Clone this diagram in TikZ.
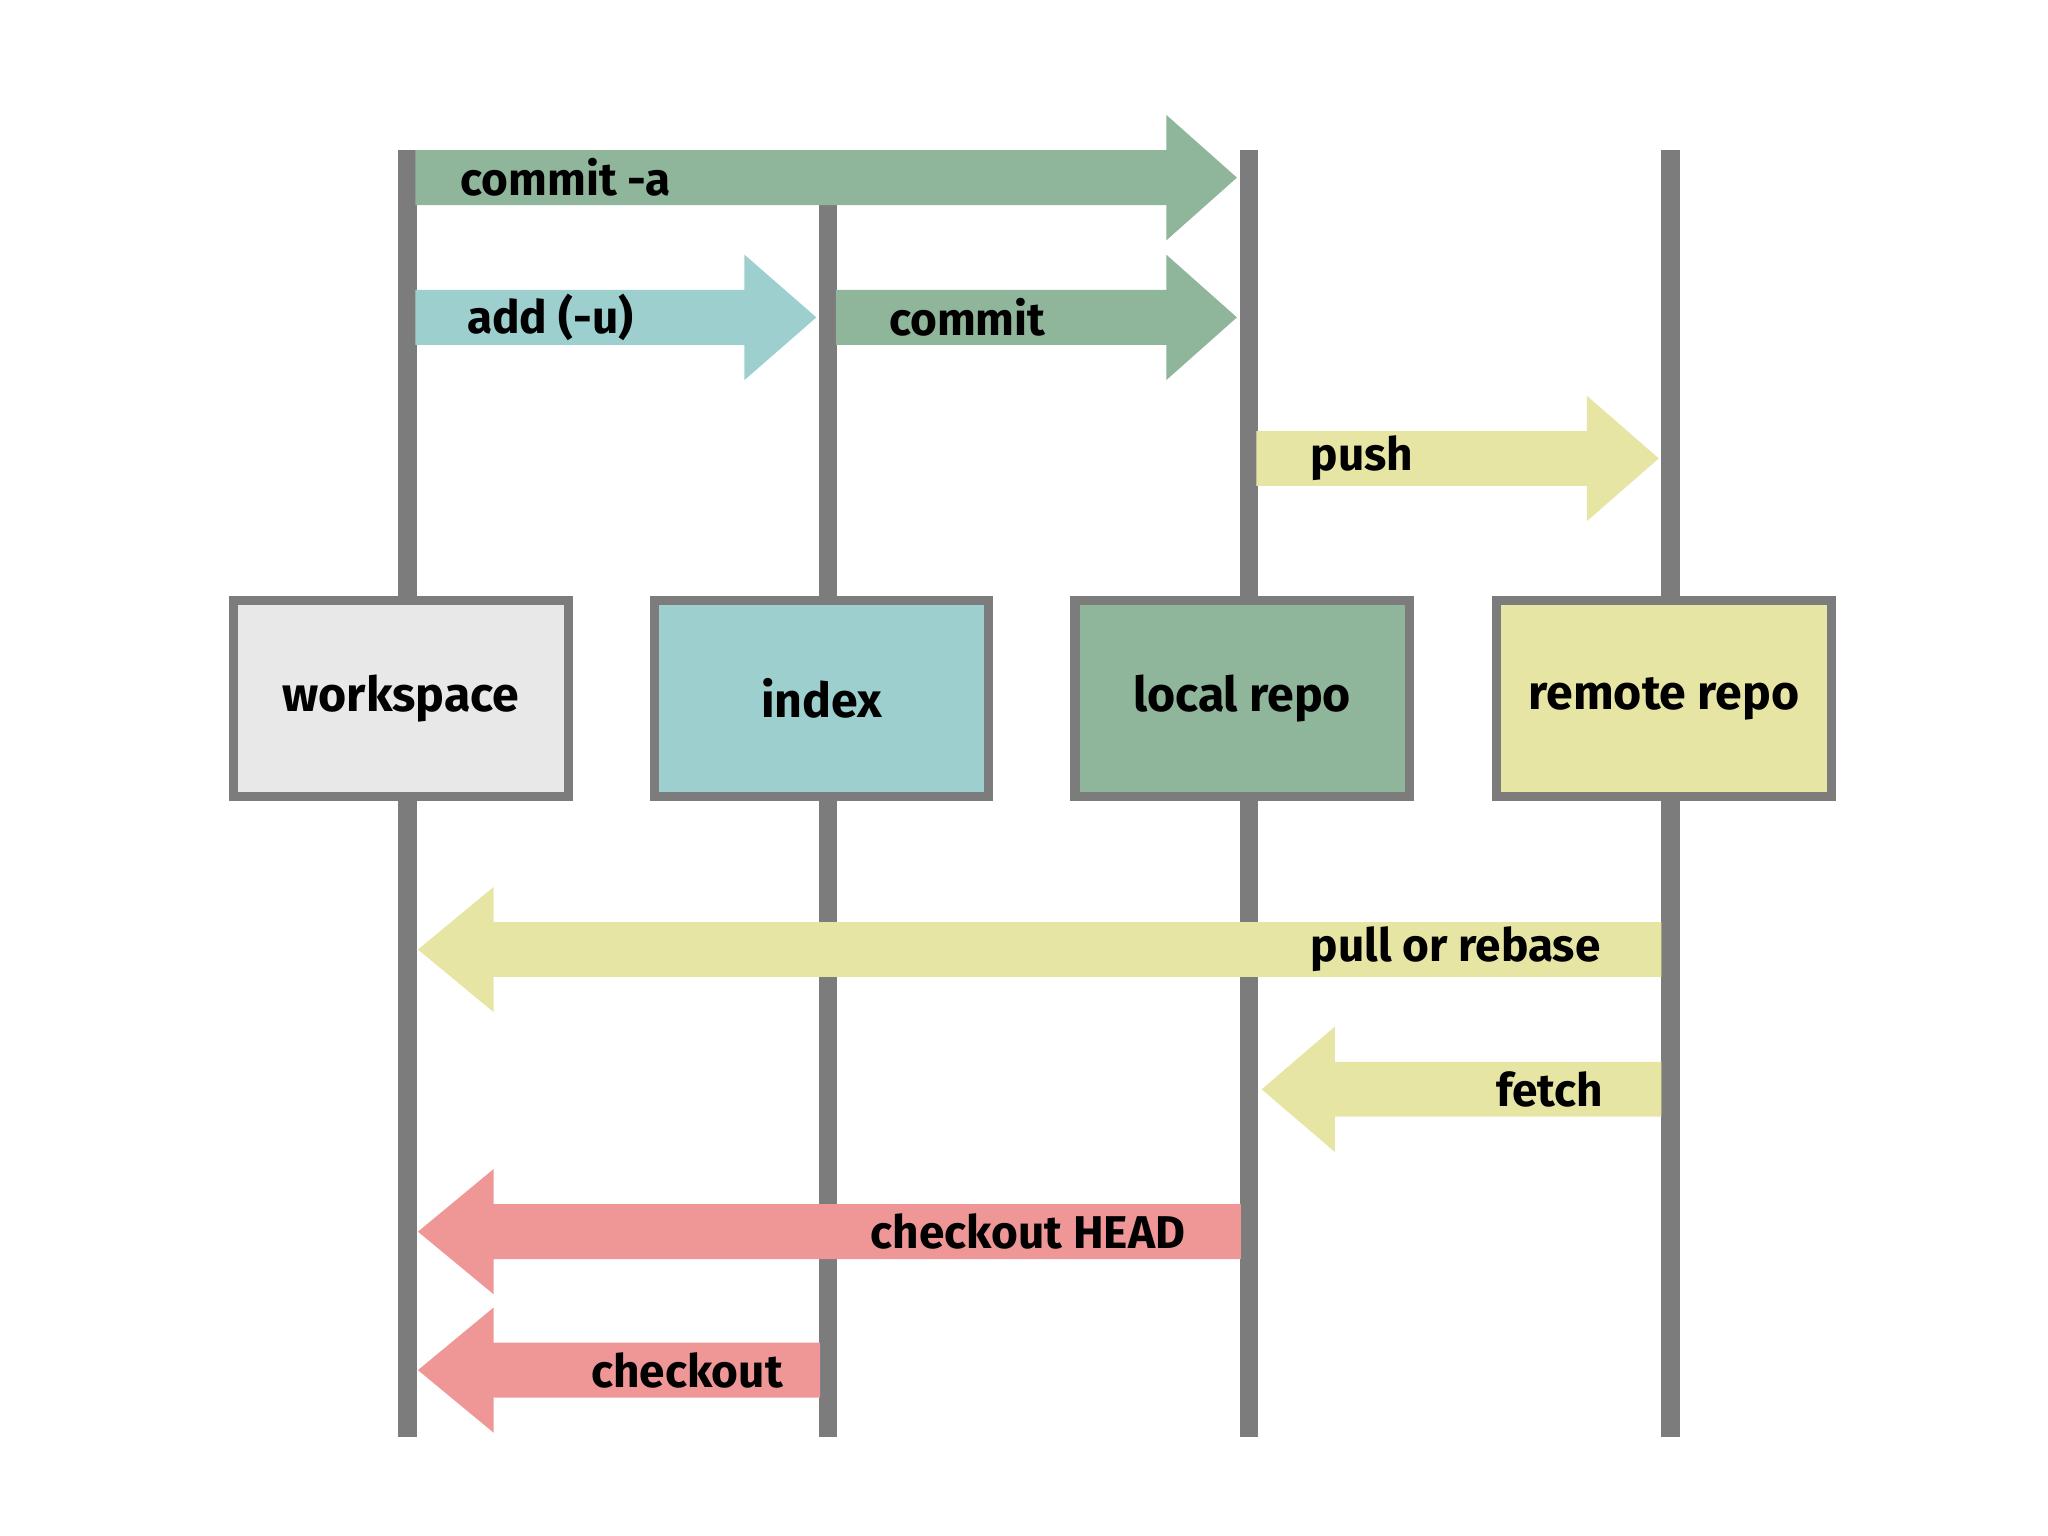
\documentclass[tikz,border=0pt]{standalone}
\usepackage{fontspec}
\setmainfont{Fira Sans}
\begin{document}
\begin{tikzpicture}[x=0.01cm,y=-0.01cm,
  vline/.style={line width=14*0.2845pt,draw=lg},
  box/.style={draw=lg,line width=7*0.2845pt,minimum width=256*0.01cm,minimum height=150*0.01cm,inner sep=0pt,font=\fontsize{10.5}{12}\selectfont\bfseries},
  lbl/.style={font=\fontsize{10}{12}\selectfont\bfseries,inner sep=0pt}]
\definecolor{lg}{HTML}{7C7C7C}
\definecolor{cgreen}{HTML}{8FB59A}
\definecolor{cteal}{HTML}{9DCFCF}
\definecolor{cyel}{HTML}{E6E5A4}
\definecolor{cpink}{HTML}{EF9696}
\definecolor{cws}{HTML}{E8E8E8}
\useasboundingbox (0,0) rectangle (1568,1176);
% lines
\foreach \x in {312,634,956,1279} \draw[vline] (\x,115) -- (\x,1100);
% boxes
\node[box,fill=cws] (ws) at (307,535) {workspace};
\node[box,fill=cteal] (ix) at (629,535) {index};
\node[box,fill=cgreen] (lr) at (951,535) {local repo};
\node[box,fill=cyel] (rr) at (1274,535) {remote repo};
% right arrows: x0 body-start, x1 head-base, x2 tip, yc center
\newcommand{\rarr}[5]{\fill[#5] (#1,#4-21) -- (#2,#4-21) -- (#2,#4-48) -- (#3,#4) -- (#2,#4+48) -- (#2,#4+21) -- (#1,#4+21) -- cycle;}
\rarr{318}{893}{947}{136}{cgreen}
\rarr{318}{570}{625}{243}{cteal}
\rarr{640}{893}{947}{243}{cgreen}
\rarr{962}{1215}{1270}{351}{cyel}
\rarr{1272}{378}{320}{727}{cyel}
\rarr{1272}{1022}{966}{834}{cyel}
\rarr{950}{378}{320}{943}{cpink}
\rarr{628}{378}{320}{1049}{cpink}
\node[lbl,anchor=west] at (352,136) {commit -a};
\node[lbl,anchor=west] at (357,243) {add (-u)};
\node[lbl,anchor=west] at (680,243) {commit};
\node[lbl,anchor=west] at (1003,351) {push};
\node[lbl,anchor=east] at (1226,727) {pull or rebase};
\node[lbl,anchor=east] at (1228,834) {fetch};
\node[lbl,anchor=east] at (908,943) {checkout HEAD};
\node[lbl,anchor=east] at (600,1049) {checkout};
\end{tikzpicture}
\end{document}
